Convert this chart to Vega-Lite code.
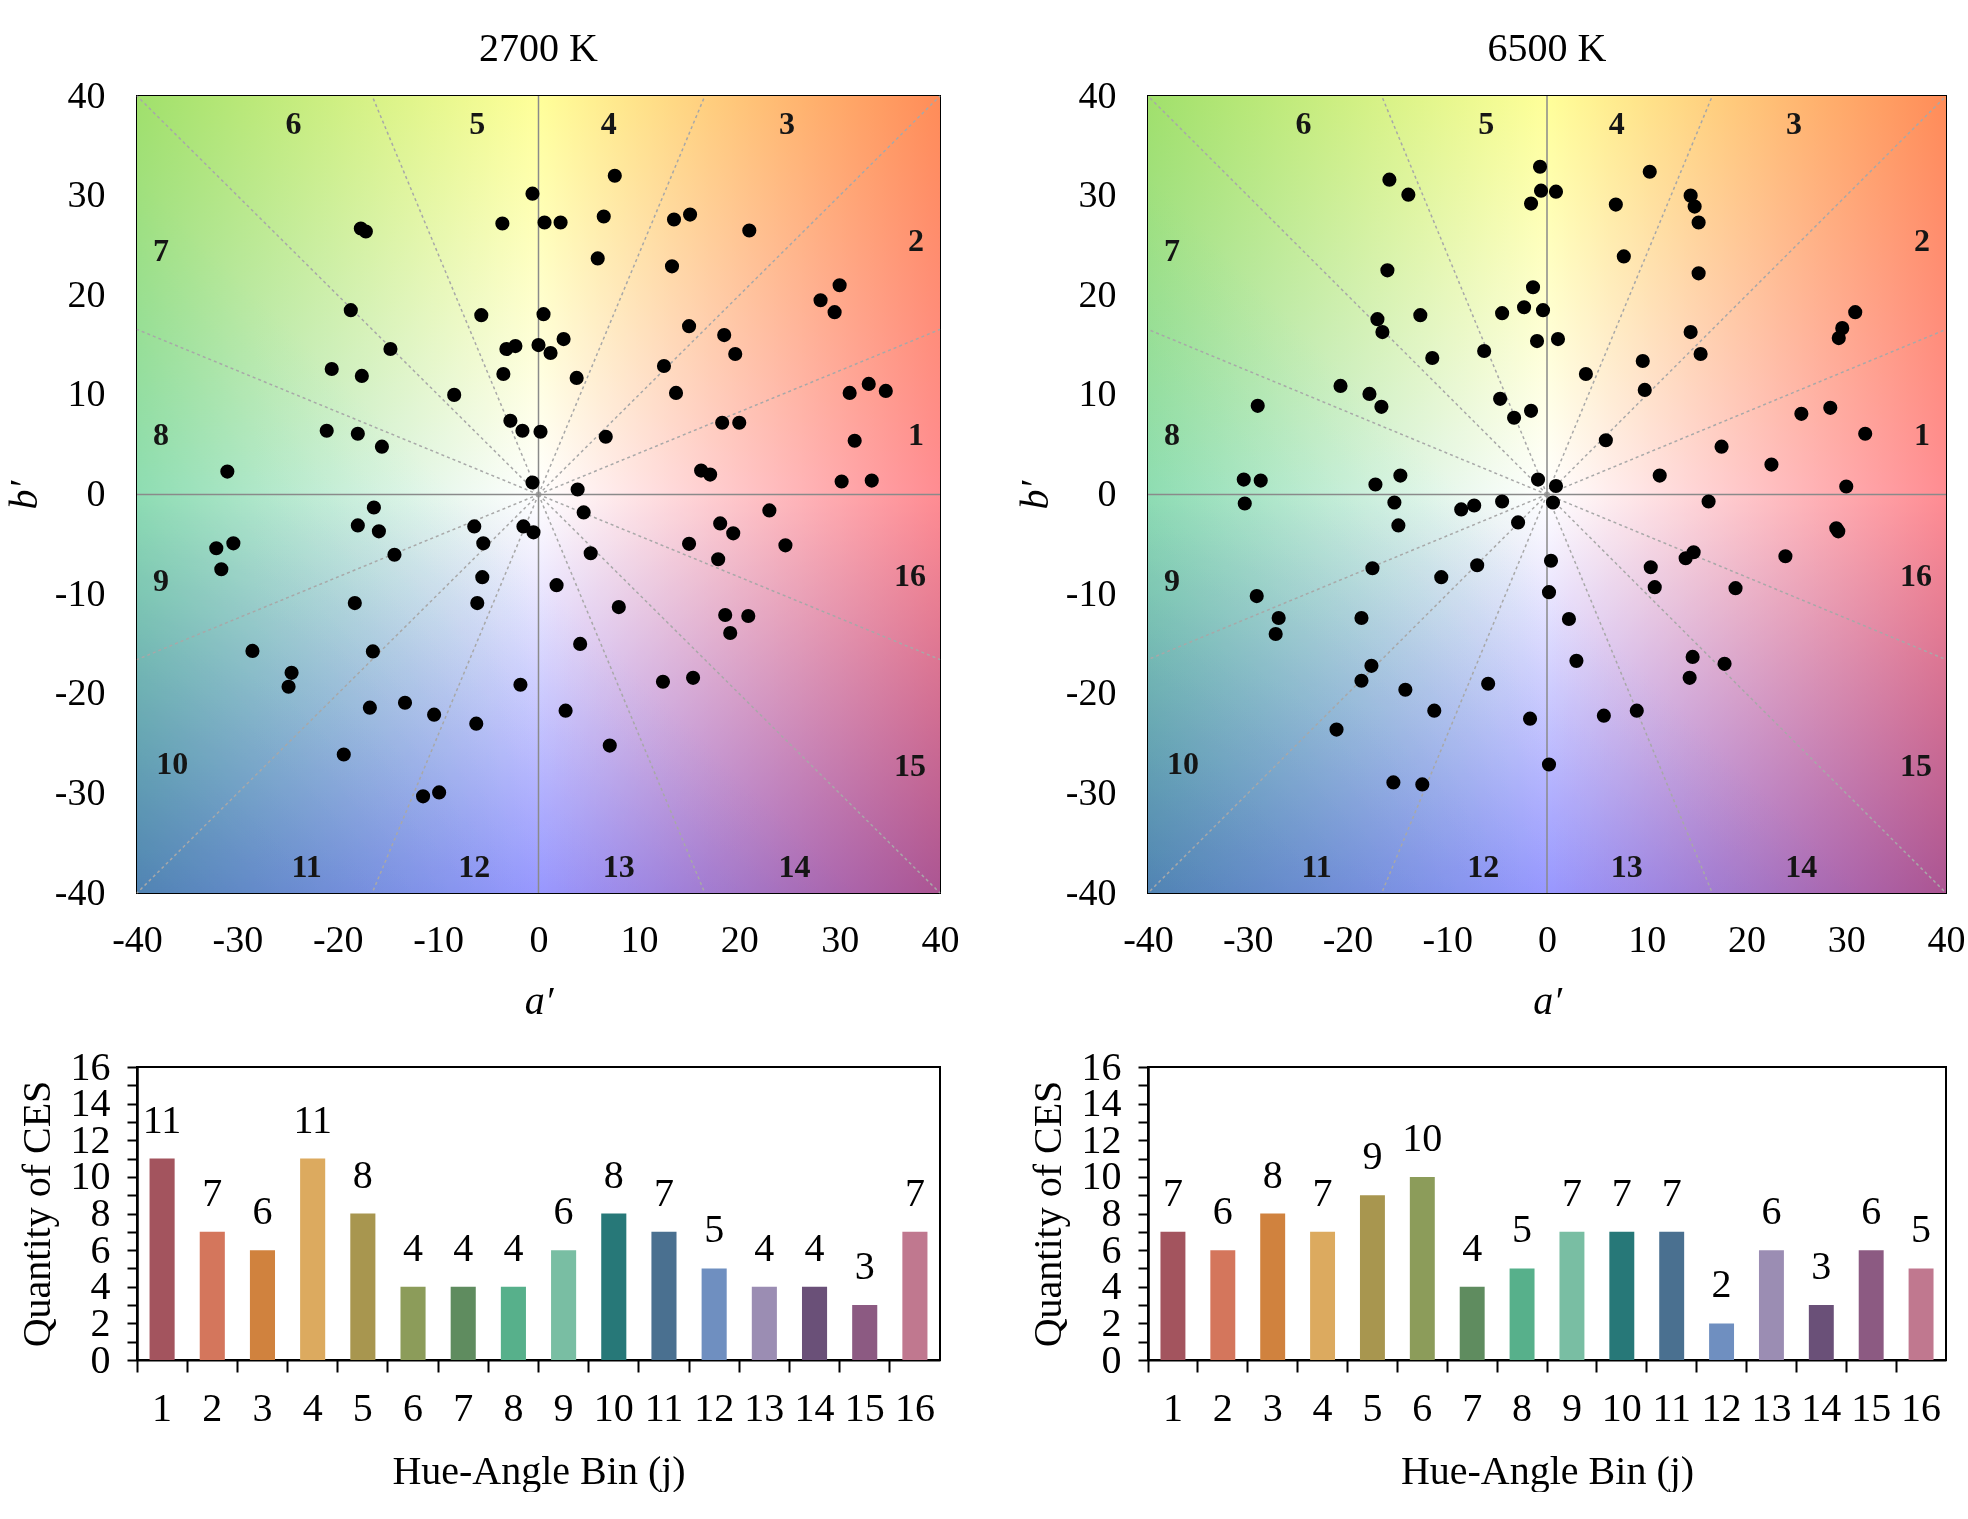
{
  "$schema": "https://vega.github.io/schema/vega-lite/v6.json",
  "padding": {"left": 3, "top": 28, "right": 0, "bottom": 0},
  "bounds": "flush",
  "columns": 2,
  "spacing": {"row": 174, "column": 208},
  "config": {
    "font": "Liberation Serif",
    "view": {"stroke": "black", "strokeWidth": 2},
    "axis": {"labelColor": "black", "titleColor": "black", "domainColor": "black", "tickColor": "black", "grid": false, "labelFont": "Liberation Serif", "titleFont": "Liberation Serif", "titleFontWeight": "normal"},
    "title": {"font": "Liberation Serif", "fontWeight": "normal", "color": "black"},
    "text": {"font": "Liberation Serif", "color": "black"}
  },
  "datasets": {
    "binlines": [
      {"oa": 0, "ob": 0, "ea": 40, "eb": 16.57}, {"oa": 0, "ob": 0, "ea": 40, "eb": 40}, {"oa": 0, "ob": 0, "ea": 16.57, "eb": 40},
      {"oa": 0, "ob": 0, "ea": -16.57, "eb": 40}, {"oa": 0, "ob": 0, "ea": -40, "eb": 40}, {"oa": 0, "ob": 0, "ea": -40, "eb": 16.57},
      {"oa": 0, "ob": 0, "ea": -40, "eb": -16.57}, {"oa": 0, "ob": 0, "ea": -40, "eb": -40}, {"oa": 0, "ob": 0, "ea": -16.57, "eb": -40},
      {"oa": 0, "ob": 0, "ea": 16.57, "eb": -40}, {"oa": 0, "ob": 0, "ea": 40, "eb": -40}, {"oa": 0, "ob": 0, "ea": 40, "eb": -16.57}
    ],
    "axlines": [
      {"oa": 0, "ob": -40, "ea": 0, "eb": 40}, {"oa": -40, "ob": 0, "ea": 40, "eb": 0}
    ],
    "binlabels": [
      {"a": 37.6, "b": 6.0, "t": "1"}, {"a": 37.6, "b": 25.4, "t": "2"}, {"a": 24.75, "b": 37.2, "t": "3"},
      {"a": 7.0, "b": 37.2, "t": "4"}, {"a": -6.1, "b": 37.2, "t": "5"}, {"a": -24.4, "b": 37.2, "t": "6"},
      {"a": -37.6, "b": 24.4, "t": "7"}, {"a": -37.6, "b": 6.0, "t": "8"}, {"a": -37.6, "b": -8.7, "t": "9"},
      {"a": -36.5, "b": -27.1, "t": "10"}, {"a": -23.1, "b": -37.4, "t": "11"}, {"a": -6.4, "b": -37.4, "t": "12"},
      {"a": 8.0, "b": -37.4, "t": "13"}, {"a": 25.5, "b": -37.4, "t": "14"}, {"a": 37.0, "b": -27.3, "t": "15"},
      {"a": 37.0, "b": -8.2, "t": "16"}
    ],
    "p2700": [
      {"a": -0.6, "b": 30.2}, {"a": -3.6, "b": 27.2}, {"a": 0.6, "b": 27.3}, {"a": 2.2, "b": 27.3},
      {"a": -17.7, "b": 26.7}, {"a": -17.2, "b": 26.4}, {"a": -18.7, "b": 18.5}, {"a": -5.7, "b": 18.0},
      {"a": 0.5, "b": 18.1}, {"a": -14.75, "b": 14.6}, {"a": -3.2, "b": 14.6}, {"a": -2.3, "b": 14.9},
      {"a": 0.0, "b": 15.0}, {"a": 1.2, "b": 14.2}, {"a": -20.6, "b": 12.6}, {"a": -17.6, "b": 11.9},
      {"a": -3.5, "b": 12.1}, {"a": -8.4, "b": 10.0}, {"a": -2.8, "b": 7.4}, {"a": -1.6, "b": 6.4},
      {"a": 0.2, "b": 6.3}, {"a": -21.1, "b": 6.4}, {"a": -18.0, "b": 6.1}, {"a": -15.6, "b": 4.8},
      {"a": -31.0, "b": 2.3}, {"a": -0.6, "b": 1.2}, {"a": 7.6, "b": 32.0}, {"a": 6.5, "b": 27.9},
      {"a": 13.5, "b": 27.6}, {"a": 15.1, "b": 28.1}, {"a": 21.0, "b": 26.5}, {"a": 5.9, "b": 23.7},
      {"a": 13.3, "b": 22.9}, {"a": 30.0, "b": 21.0}, {"a": 28.1, "b": 19.5}, {"a": 29.5, "b": 18.3},
      {"a": 15.0, "b": 16.9}, {"a": 18.5, "b": 16.0}, {"a": 19.6, "b": 14.1}, {"a": 2.5, "b": 15.6},
      {"a": 3.8, "b": 11.7}, {"a": 12.5, "b": 12.9}, {"a": 13.7, "b": 10.2}, {"a": 31.0, "b": 10.2},
      {"a": 32.9, "b": 11.1}, {"a": 34.6, "b": 10.4}, {"a": 18.3, "b": 7.2}, {"a": 20.0, "b": 7.2},
      {"a": 6.7, "b": 5.8}, {"a": 31.5, "b": 5.4}, {"a": 16.2, "b": 2.4}, {"a": 17.1, "b": 2.0},
      {"a": 30.2, "b": 1.3}, {"a": 33.2, "b": 1.4}, {"a": 3.9, "b": 0.5}, {"a": -16.4, "b": -1.3},
      {"a": -18.0, "b": -3.1}, {"a": -15.9, "b": -3.7}, {"a": -14.35, "b": -6.05}, {"a": -32.1, "b": -5.4},
      {"a": -30.4, "b": -4.9}, {"a": -31.6, "b": -7.5}, {"a": -6.4, "b": -3.2}, {"a": -5.5, "b": -4.9},
      {"a": -1.5, "b": -3.2}, {"a": -0.5, "b": -3.8}, {"a": -5.6, "b": -8.3}, {"a": -6.1, "b": -10.9},
      {"a": -18.3, "b": -10.9}, {"a": -28.5, "b": -15.7}, {"a": -16.5, "b": -15.75}, {"a": -24.6, "b": -17.9},
      {"a": -24.9, "b": -19.3}, {"a": -1.8, "b": -19.1}, {"a": -16.8, "b": -21.4}, {"a": -13.3, "b": -20.9},
      {"a": -10.4, "b": -22.1}, {"a": -6.2, "b": -23.0}, {"a": -19.4, "b": -26.1}, {"a": -11.5, "b": -30.3},
      {"a": -9.9, "b": -29.9}, {"a": 4.5, "b": -1.8}, {"a": 5.2, "b": -5.9}, {"a": 1.8, "b": -9.1},
      {"a": 8.0, "b": -11.3}, {"a": 4.15, "b": -15.0}, {"a": 2.7, "b": -21.7}, {"a": 7.1, "b": -25.2},
      {"a": 12.4, "b": -18.8}, {"a": 15.4, "b": -18.4}, {"a": 15.0, "b": -4.95}, {"a": 18.1, "b": -2.9},
      {"a": 19.4, "b": -3.9}, {"a": 17.9, "b": -6.5}, {"a": 23.0, "b": -1.6}, {"a": 24.6, "b": -5.1},
      {"a": 18.6, "b": -12.1}, {"a": 20.9, "b": -12.2}, {"a": 19.1, "b": -13.9}
    ],
    "p6500": [
      {"a": -0.7, "b": 32.9}, {"a": -15.8, "b": 31.6}, {"a": -13.9, "b": 30.1}, {"a": -0.6, "b": 30.5},
      {"a": 0.9, "b": 30.4}, {"a": -1.6, "b": 29.2}, {"a": -16.0, "b": 22.5}, {"a": -1.4, "b": 20.8},
      {"a": -2.3, "b": 18.8}, {"a": -0.4, "b": 18.5}, {"a": -4.5, "b": 18.2}, {"a": -12.7, "b": 18.0},
      {"a": -17.0, "b": 17.6}, {"a": -16.5, "b": 16.3}, {"a": -1.0, "b": 15.4}, {"a": 1.1, "b": 15.6},
      {"a": -6.3, "b": 14.4}, {"a": -11.5, "b": 13.7}, {"a": -20.7, "b": 10.9}, {"a": -17.8, "b": 10.1},
      {"a": -16.6, "b": 8.8}, {"a": -4.7, "b": 9.6}, {"a": -1.6, "b": 8.4}, {"a": -3.3, "b": 7.7},
      {"a": -29.0, "b": 8.9}, {"a": -30.4, "b": 1.5}, {"a": -28.7, "b": 1.4}, {"a": -17.2, "b": 1.0},
      {"a": -14.7, "b": 1.9}, {"a": -0.9, "b": 1.5}, {"a": 0.9, "b": 0.85}, {"a": 10.3, "b": 32.4},
      {"a": 6.9, "b": 29.1}, {"a": 14.4, "b": 30.0}, {"a": 14.8, "b": 28.9}, {"a": 15.2, "b": 27.3},
      {"a": 7.7, "b": 23.9}, {"a": 15.2, "b": 22.2}, {"a": 30.9, "b": 18.3}, {"a": 29.6, "b": 16.7},
      {"a": 29.25, "b": 15.7}, {"a": 14.4, "b": 16.3}, {"a": 15.4, "b": 14.1}, {"a": 9.6, "b": 13.4},
      {"a": 3.9, "b": 12.1}, {"a": 9.8, "b": 10.5}, {"a": 28.4, "b": 8.7}, {"a": 25.5, "b": 8.1},
      {"a": 31.9, "b": 6.1}, {"a": 5.9, "b": 5.45}, {"a": 17.5, "b": 4.8}, {"a": 22.5, "b": 3.0},
      {"a": 11.3, "b": 1.9}, {"a": 30.0, "b": 0.8}, {"a": -30.3, "b": -0.9}, {"a": -15.3, "b": -0.8},
      {"a": -14.9, "b": -3.1}, {"a": -8.6, "b": -1.5}, {"a": -7.3, "b": -1.1}, {"a": -4.5, "b": -0.7},
      {"a": -2.9, "b": -2.8}, {"a": 0.6, "b": -0.8}, {"a": -17.5, "b": -7.4}, {"a": -10.6, "b": -8.3},
      {"a": -7.0, "b": -7.1}, {"a": 0.4, "b": -6.65}, {"a": 0.2, "b": -9.8}, {"a": -29.1, "b": -10.2},
      {"a": -26.9, "b": -12.4}, {"a": -27.2, "b": -14.0}, {"a": -18.6, "b": -12.4}, {"a": -17.6, "b": -17.2},
      {"a": -18.6, "b": -18.7}, {"a": -14.2, "b": -19.6}, {"a": -5.9, "b": -19.0}, {"a": -11.3, "b": -21.7},
      {"a": -1.7, "b": -22.5}, {"a": -21.1, "b": -23.6}, {"a": 0.2, "b": -27.1}, {"a": -15.4, "b": -28.9},
      {"a": -12.5, "b": -29.1}, {"a": 16.2, "b": -0.7}, {"a": 29.0, "b": -3.4}, {"a": 29.2, "b": -3.7},
      {"a": 14.7, "b": -5.8}, {"a": 13.9, "b": -6.4}, {"a": 23.9, "b": -6.2}, {"a": 10.4, "b": -7.3},
      {"a": 10.8, "b": -9.3}, {"a": 18.9, "b": -9.4}, {"a": 2.2, "b": -12.5}, {"a": 2.95, "b": -16.7},
      {"a": 14.6, "b": -16.3}, {"a": 14.3, "b": -18.4}, {"a": 17.8, "b": -17.0}, {"a": 5.7, "b": -22.2},
      {"a": 9.0, "b": -21.7}
    ],
    "bars2700": [
      {"j": 1, "n": 11}, {"j": 2, "n": 7}, {"j": 3, "n": 6}, {"j": 4, "n": 11}, {"j": 5, "n": 8}, {"j": 6, "n": 4},
      {"j": 7, "n": 4}, {"j": 8, "n": 4}, {"j": 9, "n": 6}, {"j": 10, "n": 8}, {"j": 11, "n": 7}, {"j": 12, "n": 5},
      {"j": 13, "n": 4}, {"j": 14, "n": 4}, {"j": 15, "n": 3}, {"j": 16, "n": 7}
    ],
    "bars6500": [
      {"j": 1, "n": 7}, {"j": 2, "n": 6}, {"j": 3, "n": 8}, {"j": 4, "n": 7}, {"j": 5, "n": 9}, {"j": 6, "n": 10},
      {"j": 7, "n": 4}, {"j": 8, "n": 5}, {"j": 9, "n": 7}, {"j": 10, "n": 7}, {"j": 11, "n": 7}, {"j": 12, "n": 2},
      {"j": 13, "n": 6}, {"j": 14, "n": 3}, {"j": 15, "n": 6}, {"j": 16, "n": 5}
    ]
  },
  "concat": [
    {
      "width": 803, "height": 797,
      "title": {"text": "2700 K", "fontSize": 40, "offset": -24, "baseline": "alphabetic", "anchor": "middle", "frame": "group"},
      "layer": [
        {"data": {"values": [{}]},
         "mark": {"type": "rect", "fill": {"gradient": "linear", "x1": 0, "y1": 0, "x2": 1, "y2": 0, "stops": [{"offset": 0, "color": "#a0e0b3"}, {"offset": 0.5, "color": "#ffffff"}, {"offset": 1, "color": "#ff8c92"}]}},
         "encoding": {}},
        {"data": {"values": [{}]},
         "mark": {"type": "rect", "blend": "multiply", "fill": {"gradient": "linear", "x1": 0, "y1": 0, "x2": 0, "y2": 1, "stops": [{"offset": 0, "color": "#ffff99"}, {"offset": 0.5, "color": "#ffffff"}, {"offset": 1, "color": "#ab9aff"}]}},
         "encoding": {}},
        {"data": {"values": [{}]},
         "mark": {"type": "rect", "blend": "multiply", "fill": {"gradient": "linear", "x1": 0, "y1": 1, "x2": 1, "y2": 0, "stops": [{"offset": 0, "color": "#bff8ff"}, {"offset": 0.45, "color": "#ffffff"}, {"offset": 1, "color": "#ffffff"}]}},
         "encoding": {}},
        {"data": {"name": "binlines"},
         "mark": {"type": "rule", "stroke": "#a8a8a8", "strokeDash": [3, 3], "strokeWidth": 1.5},
         "encoding": {
           "x": {"field": "oa", "type": "quantitative", "scale": {"domain": [-40, 40], "nice": false, "zero": false}},
           "y": {"field": "ob", "type": "quantitative", "scale": {"domain": [-40, 40], "nice": false, "zero": false}},
           "x2": {"field": "ea"},
           "y2": {"field": "eb"}
         }},
        {"data": {"name": "axlines"},
         "mark": {"type": "rule", "stroke": "#8a8a8a", "strokeWidth": 1.5},
         "encoding": {
           "x": {"field": "oa", "type": "quantitative", "scale": {"domain": [-40, 40], "nice": false, "zero": false}},
           "y": {"field": "ob", "type": "quantitative", "scale": {"domain": [-40, 40], "nice": false, "zero": false}},
           "x2": {"field": "ea"},
           "y2": {"field": "eb"}
         }},
        {"data": {"name": "binlabels"},
         "mark": {"type": "text", "fontSize": 32, "fontWeight": "bold", "color": "#151515"},
         "encoding": {
           "x": {"field": "a", "type": "quantitative", "scale": {"domain": [-40, 40], "nice": false, "zero": false}},
           "y": {"field": "b", "type": "quantitative", "scale": {"domain": [-40, 40], "nice": false, "zero": false}},
           "text": {"field": "t", "type": "nominal"}
         }},
        {"data": {"name": "p2700"},
         "mark": {"type": "circle", "size": 200, "color": "black", "opacity": 1},
         "encoding": {
           "x": {"field": "a", "type": "quantitative", "scale": {"domain": [-40, 40], "nice": false, "zero": false},
                 "axis": {"values": [-40, -30, -20, -10, 0, 10, 20, 30, 40], "labelExpr": "'' + datum.value", "title": "a′", "titleFontStyle": "italic", "titleFontSize": 40, "titleX": 401.5, "titleY": 108, "titleBaseline": "middle", "domain": false, "ticks": false, "tickSize": 0, "labelFontSize": 38, "labelPadding": 47, "labelBaseline": "middle", "labelFlush": false, "labelOverlap": false}},
           "y": {"field": "b", "type": "quantitative", "scale": {"domain": [-40, 40], "nice": false, "zero": false},
                 "axis": {"values": [-40, -30, -20, -10, 0, 10, 20, 30, 40], "labelExpr": "'' + datum.value", "title": "b′", "titleFontStyle": "italic", "titleFontSize": 40, "titleX": -113, "titleY": 398.5, "titleAngle": -90, "titleBaseline": "middle", "domain": false, "ticks": false, "tickSize": 0, "labelFontSize": 38, "labelPadding": 32, "labelFlush": false, "labelOverlap": false}}
         }}
      ]
    },
    {
      "width": 798, "height": 797,
      "title": {"text": "6500 K", "fontSize": 40, "offset": -24, "baseline": "alphabetic", "anchor": "middle", "frame": "group"},
      "layer": [
        {"data": {"values": [{}]},
         "mark": {"type": "rect", "fill": {"gradient": "linear", "x1": 0, "y1": 0, "x2": 1, "y2": 0, "stops": [{"offset": 0, "color": "#a0e0b3"}, {"offset": 0.5, "color": "#ffffff"}, {"offset": 1, "color": "#ff8c92"}]}},
         "encoding": {}},
        {"data": {"values": [{}]},
         "mark": {"type": "rect", "blend": "multiply", "fill": {"gradient": "linear", "x1": 0, "y1": 0, "x2": 0, "y2": 1, "stops": [{"offset": 0, "color": "#ffff99"}, {"offset": 0.5, "color": "#ffffff"}, {"offset": 1, "color": "#ab9aff"}]}},
         "encoding": {}},
        {"data": {"values": [{}]},
         "mark": {"type": "rect", "blend": "multiply", "fill": {"gradient": "linear", "x1": 0, "y1": 1, "x2": 1, "y2": 0, "stops": [{"offset": 0, "color": "#bff8ff"}, {"offset": 0.45, "color": "#ffffff"}, {"offset": 1, "color": "#ffffff"}]}},
         "encoding": {}},
        {"data": {"name": "binlines"},
         "mark": {"type": "rule", "stroke": "#a8a8a8", "strokeDash": [3, 3], "strokeWidth": 1.5},
         "encoding": {
           "x": {"field": "oa", "type": "quantitative", "scale": {"domain": [-40, 40], "nice": false, "zero": false}},
           "y": {"field": "ob", "type": "quantitative", "scale": {"domain": [-40, 40], "nice": false, "zero": false}},
           "x2": {"field": "ea"},
           "y2": {"field": "eb"}
         }},
        {"data": {"name": "axlines"},
         "mark": {"type": "rule", "stroke": "#8a8a8a", "strokeWidth": 1.5},
         "encoding": {
           "x": {"field": "oa", "type": "quantitative", "scale": {"domain": [-40, 40], "nice": false, "zero": false}},
           "y": {"field": "ob", "type": "quantitative", "scale": {"domain": [-40, 40], "nice": false, "zero": false}},
           "x2": {"field": "ea"},
           "y2": {"field": "eb"}
         }},
        {"data": {"name": "binlabels"},
         "mark": {"type": "text", "fontSize": 32, "fontWeight": "bold", "color": "#151515"},
         "encoding": {
           "x": {"field": "a", "type": "quantitative", "scale": {"domain": [-40, 40], "nice": false, "zero": false}},
           "y": {"field": "b", "type": "quantitative", "scale": {"domain": [-40, 40], "nice": false, "zero": false}},
           "text": {"field": "t", "type": "nominal"}
         }},
        {"data": {"name": "p6500"},
         "mark": {"type": "circle", "size": 200, "color": "black", "opacity": 1},
         "encoding": {
           "x": {"field": "a", "type": "quantitative", "scale": {"domain": [-40, 40], "nice": false, "zero": false},
                 "axis": {"values": [-40, -30, -20, -10, 0, 10, 20, 30, 40], "labelExpr": "'' + datum.value", "title": "a′", "titleFontStyle": "italic", "titleFontSize": 40, "titleX": 399, "titleY": 108, "titleBaseline": "middle", "domain": false, "ticks": false, "tickSize": 0, "labelFontSize": 38, "labelPadding": 47, "labelBaseline": "middle", "labelFlush": false, "labelOverlap": false}},
           "y": {"field": "b", "type": "quantitative", "scale": {"domain": [-40, 40], "nice": false, "zero": false},
                 "axis": {"values": [-40, -30, -20, -10, 0, 10, 20, 30, 40], "labelExpr": "'' + datum.value", "title": "b′", "titleFontStyle": "italic", "titleFontSize": 40, "titleX": -113, "titleY": 398.5, "titleAngle": -90, "titleBaseline": "middle", "domain": false, "ticks": false, "tickSize": 0, "labelFontSize": 38, "labelPadding": 32, "labelFlush": false, "labelOverlap": false}}
         }}
      ]
    },
    {
      "width": 803, "height": 293,
      "data": {"name": "bars2700"},
      "resolve": {"axis": {"y": "independent"}},
      "encoding": {
        "x": {"field": "j", "type": "ordinal", "scale": {"paddingInner": 0.5, "paddingOuter": 0.25},
              "axis": {"title": "Hue-Angle Bin (j)", "labelAngle": 0, "bandPosition": -0.5, "tickSize": 12, "tickWidth": 2, "labelPadding": 16, "labelFontSize": 40, "titleFontSize": 40, "titleX": 401.5, "titleY": 111, "titleBaseline": "middle", "domainWidth": 2}}
      },
      "layer": [
        {"mark": {"type": "bar"},
         "encoding": {
           "y": {"field": "n", "type": "quantitative", "scale": {"domain": [0, 16], "nice": false},
                 "axis": {"orient": "left", "title": "Quantity of CES", "values": [0, 2, 4, 6, 8, 10, 12, 14, 16], "tickSize": 10, "tickWidth": 2, "labelPadding": 17, "labelFontSize": 40, "titleFontSize": 40, "titleX": -100, "titleY": 146.5, "titleAngle": -90, "titleBaseline": "middle", "domainWidth": 2, "labelOverlap": false, "labelFlush": false}},
           "color": {"field": "j", "type": "nominal", "legend": null,
           "scale": {"domain": [1, 2, 3, 4, 5, 6, 7, 8, 9, 10, 11, 12, 13, 14, 15, 16],
                     "range": ["#a3545e", "#d4765c", "#d0823e", "#dcaa5f", "#a8964f", "#8c9c5a", "#5f8c5f", "#57b08b", "#79bea3", "#277878", "#4a7090", "#6f8fc0", "#9b8db3", "#6a5078", "#8c5a82", "#c0788f"]}}}},
        {"mark": {"type": "text", "dy": -38, "baseline": "middle", "fontSize": 40},
         "encoding": {
           "y": {"field": "n", "type": "quantitative", "scale": {"domain": [0, 16], "nice": false},
                 "axis": {"orient": "left", "title": null, "values": [1, 3, 5, 7, 9, 11, 13, 15], "labels": false, "tickSize": 10, "tickWidth": 2, "domainWidth": 2}},
           "text": {"field": "n", "type": "quantitative"}}}
      ]
    },
    {
      "width": 798, "height": 293,
      "data": {"name": "bars6500"},
      "resolve": {"axis": {"y": "independent"}},
      "encoding": {
        "x": {"field": "j", "type": "ordinal", "scale": {"paddingInner": 0.5, "paddingOuter": 0.25},
              "axis": {"title": "Hue-Angle Bin (j)", "labelAngle": 0, "bandPosition": -0.5, "tickSize": 12, "tickWidth": 2, "labelPadding": 16, "labelFontSize": 40, "titleFontSize": 40, "titleX": 399, "titleY": 111, "titleBaseline": "middle", "domainWidth": 2}}
      },
      "layer": [
        {"mark": {"type": "bar"},
         "encoding": {
           "y": {"field": "n", "type": "quantitative", "scale": {"domain": [0, 16], "nice": false},
                 "axis": {"orient": "left", "title": "Quantity of CES", "values": [0, 2, 4, 6, 8, 10, 12, 14, 16], "tickSize": 10, "tickWidth": 2, "labelPadding": 17, "labelFontSize": 40, "titleFontSize": 40, "titleX": -100, "titleY": 146.5, "titleAngle": -90, "titleBaseline": "middle", "domainWidth": 2, "labelOverlap": false, "labelFlush": false}},
           "color": {"field": "j", "type": "nominal", "legend": null,
           "scale": {"domain": [1, 2, 3, 4, 5, 6, 7, 8, 9, 10, 11, 12, 13, 14, 15, 16],
                     "range": ["#a3545e", "#d4765c", "#d0823e", "#dcaa5f", "#a8964f", "#8c9c5a", "#5f8c5f", "#57b08b", "#79bea3", "#277878", "#4a7090", "#6f8fc0", "#9b8db3", "#6a5078", "#8c5a82", "#c0788f"]}}}},
        {"mark": {"type": "text", "dy": -38, "baseline": "middle", "fontSize": 40},
         "encoding": {
           "y": {"field": "n", "type": "quantitative", "scale": {"domain": [0, 16], "nice": false},
                 "axis": {"orient": "left", "title": null, "values": [1, 3, 5, 7, 9, 11, 13, 15], "labels": false, "tickSize": 10, "tickWidth": 2, "domainWidth": 2}},
           "text": {"field": "n", "type": "quantitative"}}}
      ]
    }
  ]
}
